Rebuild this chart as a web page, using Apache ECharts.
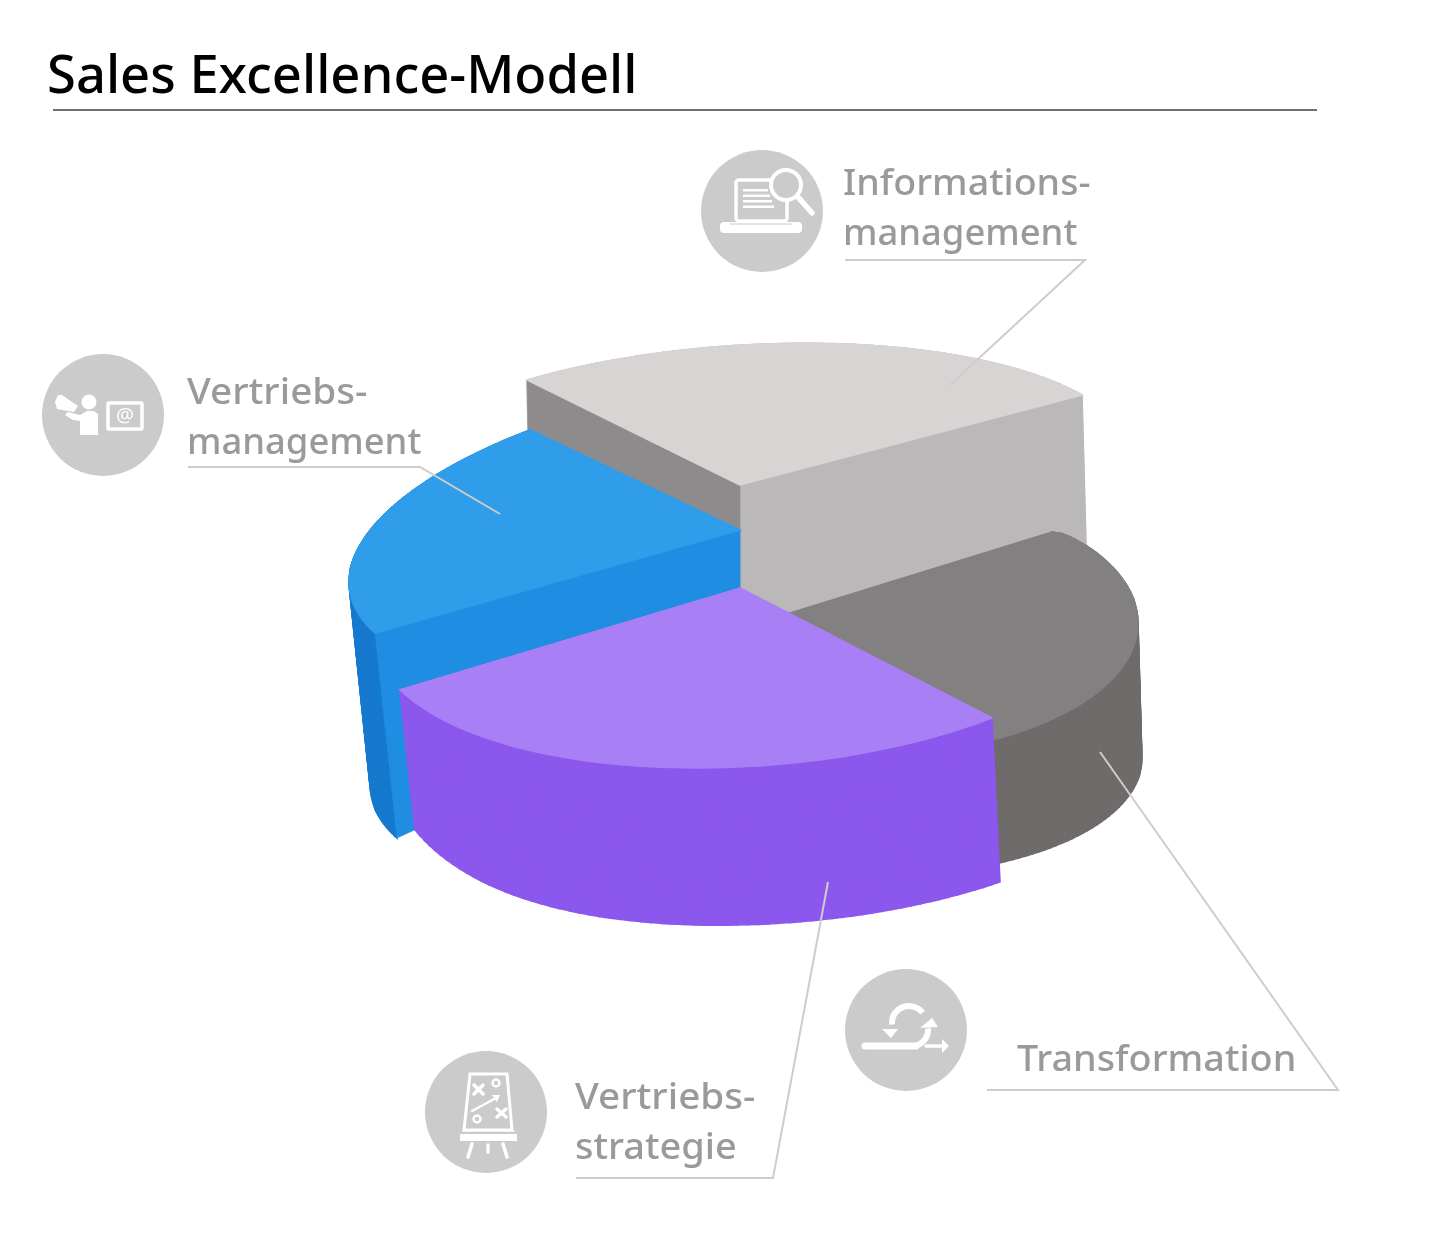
<!DOCTYPE html>
<html><head><meta charset="utf-8">
<style>html,body{margin:0;padding:0;background:#fff}#c{width:1435px;height:1246px}</style>
<script src="https://cdn.jsdelivr.net/npm/echarts@6/dist/echarts.min.js"></script>
</head><body><div id="c"></div>
<script>
// ---- data ----
const chartTitle = 'Sales Excellence-Modell';
const categories = ['Informationsmanagement', 'Transformation', 'Vertriebsmanagement', 'Vertriebsstrategie'];
const shares = [25, 26, 22, 27];
const labelLines = [['Informations-', 'management'], ['Transformation'], ['Vertriebs-', 'management'], ['Vertriebs-', 'strategie']];

// ---- look of each slice: frame of its sector on the page, extrusion, colours ----
const sliceStyles = [
  { origin: [740, 485], axisA: [-213, -105], axisB: [342, -90], dropA: [3, 150], dropB: [4, 150], bulge: 0.025, peak: 1, dropBulge: 0,
    top: '#d8d4d4', outer: '#bbb8b9', cutA: '#8e8b8c', cutB: '#bbb8b9', cutDepth: 155 },
  { origin: [790, 613], axisA: [262, -81], axisB: [205, 126], dropA: [2, 142], dropB: [7, 122], bulge: 0.05, peak: 0.5, dropBulge: 0,
    top: '#828081', outer: '#6f6b6a' },
  { origin: [740, 530], axisA: [-365, 103], axisB: [-144, -121.5], dropA: [22, 205], dropB: [19, 200], bulge: -0.005, peak: 1, dropBulge: 0,
    top: '#2f9de9', outer: '#1679ce', cutA: '#1f8de2', cutDepth: 150 },
  { origin: [740, 588], axisA: [252, 130], axisB: [-311, 119], dropA: [8, 164], dropB: [15, 140], bulge: 0.035, peak: 2, dropBulge: 7,
    top: '#a97ff5', outer: '#8c57ec' }
];
const labelStyles = [
  { x: 843, ys: [184, 234], sx: [1.015, 0.983], rule: [[845, 260], [1085, 260], [950, 385]], icon: [762, 211] },
  { x: 1017, ys: [1060], sx: [1.02], rule: [[987, 1090], [1338, 1090], [1100, 752]], icon: [906, 1030] },
  { x: 187, ys: [393, 443], sx: [1.045, 0.983], rule: [[188, 467], [420, 467], [500, 514]], icon: [103, 415] },
  { x: 575, ys: [1098, 1148], sx: [1.045, 1.025], rule: [[576, 1178], [773, 1178], [828, 882]], icon: [486, 1112] }
];

const GREY = '#cbcbcb', W = '#ffffff', FONT = '"Noto Sans"';
const total = shares.reduce((a, b) => a + b, 0);

function renderSlice(params, api) {
  const s = sliceStyles[params.dataIndex];
  const sweep = api.value(0) / total * 2 * Math.PI;
  const n = 64, arc = [], low = [];
  for (let i = 0; i <= n; i++) {
    const t = i / n, a = t * sweep;
    const arch = Math.sin(Math.PI * Math.pow(t, s.peak));
    const r = 1 + s.bulge * arch;
    const x = s.origin[0] + r * (s.axisA[0] * Math.cos(a) + s.axisB[0] * Math.sin(a));
    const y = s.origin[1] + r * (s.axisA[1] * Math.cos(a) + s.axisB[1] * Math.sin(a));
    arc.push([x, y]);
    low.push([x + s.dropA[0] + (s.dropB[0] - s.dropA[0]) * t,
              y + s.dropA[1] + (s.dropB[1] - s.dropA[1]) * t + s.dropBulge * arch]);
  }
  const kids = [];
  const poly = (pts, fill, lw) => kids.push({ type: 'polygon', shape: { points: pts }, style: { fill, stroke: fill, lineWidth: lw } });
  const foot = [s.origin[0], s.origin[1] + (s.cutDepth || 0)];
  for (let i = 0; i < n; i++) poly([arc[i], arc[i + 1], low[i + 1], low[i]], s.outer, 1.6);
  if (s.cutB) poly([s.origin, arc[n], low[n], foot], s.cutB, 0.6);
  if (s.cutA) poly([s.origin, arc[0], low[0], foot], s.cutA, 0.6);
  poly([s.origin].concat(arc), s.top, 1.6);
  return { type: 'group', children: kids };
}

// ---- icons (relative to the circle centre) ----
const ln = (x1, y1, x2, y2, w) => ({ type: 'line', shape: { x1, y1, x2, y2 }, style: { stroke: W, lineWidth: w || 3, lineCap: 'round' } });
const box = (x, y, width, height, r, fill, stroke, lw) => ({ type: 'rect', shape: { x, y, width, height, r: r || 0 }, style: { fill: fill || W, stroke: stroke || null, lineWidth: lw || 0 } });
const dot = (cx, cy, r, fill, stroke, lw) => ({ type: 'circle', shape: { cx, cy, r }, style: { fill: fill || W, stroke: stroke || null, lineWidth: lw || 0 } });
const pgon = (points, fill, stroke, lw) => ({ type: 'polygon', shape: { points }, style: { fill: fill || W, stroke: stroke || null, lineWidth: lw || 0 } });

const iconInfo = [
  box(-26, -31, 51, 41, 3, GREY, W, 3.5),
  box(-19, -22, 25, 2.5), box(-19, -16.5, 27, 2.5), box(-19, -11, 29, 2.5), box(-19, -5.5, 31, 2.5),
  box(-42, 11, 82, 11, 4), box(-32, 12.5, 62, 1, 0, GREY),
  dot(24, -26, 15, GREY, W, 4), ln(36, -14, 50, 2, 5.5)
];
const iconTransform = [
  ln(-41, 16, 10, 16, 7),
  { type: 'arc', shape: { cx: 6, cy: 0, r: 16, startAngle: 1.5, endAngle: -0.1, clockwise: false }, style: { stroke: W, fill: null, lineWidth: 6 } },
  pgon([[14, -2], [26, -12], [32, -3]]),
  ln(20, 16, 38, 16, 3.5), pgon([[36, 9], [43, 16], [36, 23]]),
  { type: 'arc', shape: { cx: 3, cy: -7, r: 17, startAngle: -0.65, endAngle: 3.05, clockwise: false }, style: { stroke: W, fill: null, lineWidth: 6 } },
  pgon([[-24, -1], [-8, -1], [-15, 8]])
];
const iconSales = [
  dot(-14, -13, 7.5),
  pgon([[-23, 20], [-23, 6], [-30, 5], [-38, 0], [-35, -3], [-23, 0], [-16, -4], [-9, -4], [-5, -1], [-5, 20]]),
  pgon([[-45, -20], [-41, -20], [-25, -9], [-29, -3], [-46, -6], [-48, -13]]),
  box(5, -12, 34, 26, 1, GREY, W, 3.5),
  { type: 'text', style: { x: 22, y: 1, text: '@', fill: W, font: '20px "Noto Sans"', align: 'center', verticalAlign: 'middle' } }
];
const iconStrategy = [
  pgon([[-16, -38], [21, -38], [26, 18], [-22, 18]], GREY, W, 3),
  box(-26, 22, 57, 7), box(-24, 18.5, 53, 1),
  ln(-14, 32, -18, 45, 3.5), ln(17, 32, 21, 45, 3.5), ln(2, 33, 2, 40, 3.5),
  dot(10, -29, 3.5, GREY, W, 2.5), dot(-9, 7, 3.5, GREY, W, 2.5),
  ln(-12, -27, -3, -18, 3.5), ln(-3, -27, -12, -18, 3.5),
  ln(11, -3, 20, 5, 3.5), ln(20, -3, 11, 5, 3.5),
  ln(-14, -1, 10, -14, 2.5), pgon([[14, -17], [6, -17], [11, -10]])
];
const icons = [iconInfo, iconTransform, iconSales, iconStrategy];

// ---- annotations ----
const graphics = [{ type: 'line', shape: { x1: 53, y1: 110, x2: 1317, y2: 110 }, style: { stroke: '#6f6f6f', lineWidth: 2 }, z: 1 }];
labelStyles.forEach((l, i) => {
  graphics.push({ type: 'circle', shape: { cx: l.icon[0], cy: l.icon[1], r: 61 }, style: { fill: GREY } });
  graphics.push({ type: 'group', x: l.icon[0], y: l.icon[1], children: icons[i] });
  labelLines[i].forEach((t, k) => graphics.push({
    type: 'text', x: l.x, y: l.ys[k], scaleX: l.sx[k],
    style: { text: t, fill: '#9a9a9a', font: '500 37px ' + FONT, verticalAlign: 'middle', align: 'left' }
  }));
  graphics.push({ type: 'polyline', shape: { points: l.rule }, style: { stroke: '#cdcdcd', lineWidth: 2, fill: null }, z: 20 });
});

const chart = echarts.init(document.getElementById('c'), null, { renderer: 'canvas' });
chart.setOption({
  animation: false,
  backgroundColor: '#ffffff',
  title: { text: chartTitle, left: 47, top: 52, padding: 0, textStyle: { color: '#000', fontFamily: 'Noto Sans', fontSize: 52.5, fontWeight: 500 } },
  tooltip: { show: false },
  graphic: { elements: graphics },
  series: [{ type: 'custom', coordinateSystem: 'none', name: 'Sales Excellence', renderItem: renderSlice, z: 5,
    data: shares.map((v, i) => ({ name: categories[i], value: [v] })) }]
});
</script></body></html>
